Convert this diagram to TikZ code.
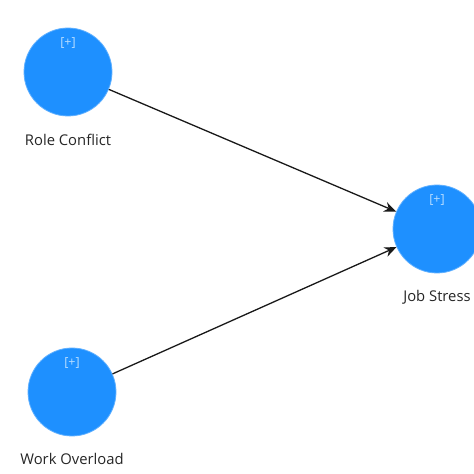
\documentclass[tikz,border=0pt]{standalone}
\usepackage{fontspec}
\setsansfont{Open Sans}
\usetikzlibrary{arrows.meta,positioning}

\definecolor{latentblue}{RGB}{30,144,255}
\definecolor{plusblue}{RGB}{185,222,255}

\begin{document}
\begin{tikzpicture}[>={Stealth[length=12pt,width=10pt]},font=\sffamily,x=1pt,y=1pt,
    latent/.style={circle,fill=latentblue,draw=latentblue!70!white,line width=0.8pt,minimum size=88pt,inner sep=0pt},
    plus/.style={font=\sffamily\fontsize{12.5}{14}\selectfont,text=plusblue},
    caption/.style={font=\sffamily\fontsize{14.8}{16}\selectfont,text=black!85},
    path/.style={->,line width=1.3pt,black!90}]

    % Page frame
    \useasboundingbox [fill=white] (0,0) rectangle (474,474);

    % Constructs
    \node [latent] (rc) at (68,402) {};
    \node [latent] (js) at (437,245) {};
    \node [latent] (wo) at (72,82) {};

    % Indicator markers
    \node [plus] at ([yshift=-15.5pt]rc.north) {[+]};
    \node [plus] at ([yshift=-15.5pt]js.north) {[+]};
    \node [plus] at ([yshift=-15.5pt]wo.north) {[+]};

    % Construct names (baseline below the circle)
    \node [caption,below=29pt of rc,anchor=base] (rclabel) {Role Conflict};
    \node [caption,below=28pt of js,anchor=base] (jslabel) {Job Stress};
    \node [caption,below=28pt of wo,anchor=base] (wolabel) {Work Overload};

    % Structural paths
    \draw [path] (rc) -- (js);
    \draw [path] (wo) -- (js);

\end{tikzpicture}
\end{document}
